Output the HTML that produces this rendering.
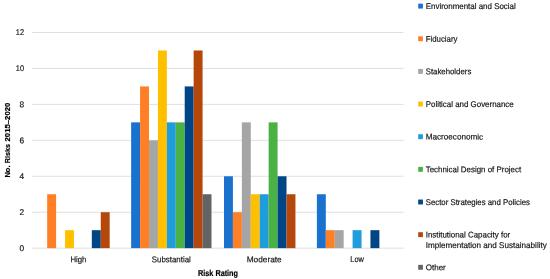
<!DOCTYPE html>
<html lang="en"><head><meta charset="utf-8"><title>Risk Rating chart</title>
<style>
html,body{margin:0;padding:0;background:#fff;}
svg{display:block;}
text{font-family:"Liberation Sans",sans-serif;fill:#141414;stroke:#141414;stroke-width:0.18px;}
.b{font-weight:bold;fill:#000;stroke:#000;stroke-width:0.2px;}
</style></head><body>
<svg width="550" height="279" viewBox="0 0 550 279">
<rect width="550" height="279" fill="#fff"/>
<line x1="32.0" x2="403.5" y1="248.15" y2="248.15" stroke="#d4d4d4" stroke-width="0.75"/>
<text transform="translate(24.00,251.00) rotate(0.03)" font-size="8.3" text-anchor="end">0</text>
<line x1="32.0" x2="403.5" y1="212.21" y2="212.21" stroke="#d4d4d4" stroke-width="0.75"/>
<text transform="translate(24.00,215.06) rotate(0.03)" font-size="8.3" text-anchor="end">2</text>
<line x1="32.0" x2="403.5" y1="176.27" y2="176.27" stroke="#d4d4d4" stroke-width="0.75"/>
<text transform="translate(24.00,179.12) rotate(0.03)" font-size="8.3" text-anchor="end">4</text>
<line x1="32.0" x2="403.5" y1="140.33" y2="140.33" stroke="#d4d4d4" stroke-width="0.75"/>
<text transform="translate(24.00,143.18) rotate(0.03)" font-size="8.3" text-anchor="end">6</text>
<line x1="32.0" x2="403.5" y1="104.39" y2="104.39" stroke="#d4d4d4" stroke-width="0.75"/>
<text transform="translate(24.00,107.24) rotate(0.03)" font-size="8.3" text-anchor="end">8</text>
<line x1="32.0" x2="403.5" y1="68.45" y2="68.45" stroke="#d4d4d4" stroke-width="0.75"/>
<text transform="translate(24.00,71.30) rotate(0.03)" font-size="8.3" textLength="8.2" lengthAdjust="spacingAndGlyphs" text-anchor="end">10</text>
<line x1="32.0" x2="403.5" y1="32.51" y2="32.51" stroke="#d4d4d4" stroke-width="0.75"/>
<text transform="translate(24.00,35.36) rotate(0.03)" font-size="8.3" textLength="8.2" lengthAdjust="spacingAndGlyphs" text-anchor="end">12</text>
<rect x="47.18" y="194.24" width="8.93" height="53.91" fill="#FF7F27"/>
<rect x="65.04" y="230.18" width="8.93" height="17.97" fill="#FFC000"/>
<rect x="91.83" y="230.18" width="8.93" height="17.97" fill="#004586"/>
<rect x="100.76" y="212.21" width="8.93" height="35.94" fill="#B5470B"/>
<rect x="131.13" y="122.36" width="8.93" height="125.79" fill="#1B72CE"/>
<rect x="140.06" y="86.42" width="8.93" height="161.73" fill="#FF7F27"/>
<rect x="148.99" y="140.33" width="8.93" height="107.82" fill="#A5A5A5"/>
<rect x="157.92" y="50.48" width="8.93" height="197.67" fill="#FFC000"/>
<rect x="166.85" y="122.36" width="8.93" height="125.79" fill="#1F9CDC"/>
<rect x="175.78" y="122.36" width="8.93" height="125.79" fill="#49B242"/>
<rect x="184.71" y="86.42" width="8.93" height="161.73" fill="#004586"/>
<rect x="193.64" y="50.48" width="8.93" height="197.67" fill="#B5470B"/>
<rect x="202.57" y="194.24" width="8.93" height="53.91" fill="#636363"/>
<rect x="224.00" y="176.27" width="8.93" height="71.88" fill="#1B72CE"/>
<rect x="232.93" y="212.21" width="8.93" height="35.94" fill="#FF7F27"/>
<rect x="241.86" y="122.36" width="8.93" height="125.79" fill="#A5A5A5"/>
<rect x="250.79" y="194.24" width="8.93" height="53.91" fill="#FFC000"/>
<rect x="259.72" y="194.24" width="8.93" height="53.91" fill="#1F9CDC"/>
<rect x="268.65" y="122.36" width="8.93" height="125.79" fill="#49B242"/>
<rect x="277.58" y="176.27" width="8.93" height="71.88" fill="#004586"/>
<rect x="286.51" y="194.24" width="8.93" height="53.91" fill="#B5470B"/>
<rect x="316.88" y="194.24" width="8.93" height="53.91" fill="#1B72CE"/>
<rect x="325.81" y="230.18" width="8.93" height="17.97" fill="#FF7F27"/>
<rect x="334.74" y="230.18" width="8.93" height="17.97" fill="#A5A5A5"/>
<rect x="352.60" y="230.18" width="8.93" height="17.97" fill="#1F9CDC"/>
<rect x="370.46" y="230.18" width="8.93" height="17.97" fill="#004586"/>
<text transform="translate(70.44,262.30) rotate(0.03)" font-size="8.3" textLength="16.0" lengthAdjust="spacingAndGlyphs">High</text>
<text transform="translate(151.81,262.30) rotate(0.03)" font-size="8.3" textLength="39.0" lengthAdjust="spacingAndGlyphs">Substantial</text>
<text transform="translate(246.69,262.30) rotate(0.03)" font-size="8.3" textLength="35.0" lengthAdjust="spacingAndGlyphs">Moderate</text>
<text transform="translate(350.26,262.30) rotate(0.03)" font-size="8.3" textLength="13.6" lengthAdjust="spacingAndGlyphs">Low</text>
<text transform="translate(198.00,275.60) rotate(0.03)" font-size="8.5" textLength="40.0" lengthAdjust="spacingAndGlyphs" class="b">Risk Rating</text>
<text class="b" transform="translate(10.2,177.6) rotate(-90)" font-size="7.9"><tspan x="0" textLength="12.1" lengthAdjust="spacingAndGlyphs">No.</tspan> <tspan x="14.4" textLength="19.2" lengthAdjust="spacingAndGlyphs">Risks</tspan> <tspan x="36.1" textLength="38.9" lengthAdjust="spacingAndGlyphs">2015–2020</tspan></text>
<rect x="418.2" y="3.65" width="4.7" height="4.9" fill="#1B72CE"/>
<text transform="translate(425.70,9.00) rotate(0.03)" font-size="8.3" textLength="90.1" lengthAdjust="spacingAndGlyphs">Environmental and Social</text>
<rect x="418.2" y="36.30" width="4.7" height="4.9" fill="#FF7F27"/>
<text transform="translate(425.70,41.65) rotate(0.03)" font-size="8.3" textLength="31.8" lengthAdjust="spacingAndGlyphs">Fiduciary</text>
<rect x="418.2" y="68.95" width="4.7" height="4.9" fill="#A5A5A5"/>
<text transform="translate(425.70,74.30) rotate(0.03)" font-size="8.3" textLength="45.6" lengthAdjust="spacingAndGlyphs">Stakeholders</text>
<rect x="418.2" y="101.60" width="4.7" height="4.9" fill="#FFC000"/>
<text transform="translate(425.70,106.95) rotate(0.03)" font-size="8.3" textLength="88.0" lengthAdjust="spacingAndGlyphs">Political and Governance</text>
<rect x="418.2" y="134.25" width="4.7" height="4.9" fill="#1F9CDC"/>
<text transform="translate(425.70,139.60) rotate(0.03)" font-size="8.3" textLength="57.5" lengthAdjust="spacingAndGlyphs">Macroeconomic</text>
<rect x="418.2" y="166.90" width="4.7" height="4.9" fill="#49B242"/>
<text transform="translate(425.70,172.25) rotate(0.03)" font-size="8.3" textLength="95.4" lengthAdjust="spacingAndGlyphs">Technical Design of Project</text>
<rect x="418.2" y="199.55" width="4.7" height="4.9" fill="#004586"/>
<text transform="translate(425.70,204.90) rotate(0.03)" font-size="8.3" textLength="104.2" lengthAdjust="spacingAndGlyphs">Sector Strategies and Policies</text>
<rect x="418.2" y="232.20" width="4.7" height="4.9" fill="#B5470B"/>
<text transform="translate(425.70,237.55) rotate(0.03)" font-size="8.3" textLength="84.5" lengthAdjust="spacingAndGlyphs">Institutional Capacity for</text>
<text transform="translate(425.70,247.95) rotate(0.03)" font-size="8.3" textLength="121.1" lengthAdjust="spacingAndGlyphs">Implementation and Sustainability</text>
<rect x="418.2" y="264.85" width="4.7" height="4.9" fill="#636363"/>
<text transform="translate(425.70,270.20) rotate(0.03)" font-size="8.3" textLength="20.1" lengthAdjust="spacingAndGlyphs">Other</text>
</svg></body></html>
